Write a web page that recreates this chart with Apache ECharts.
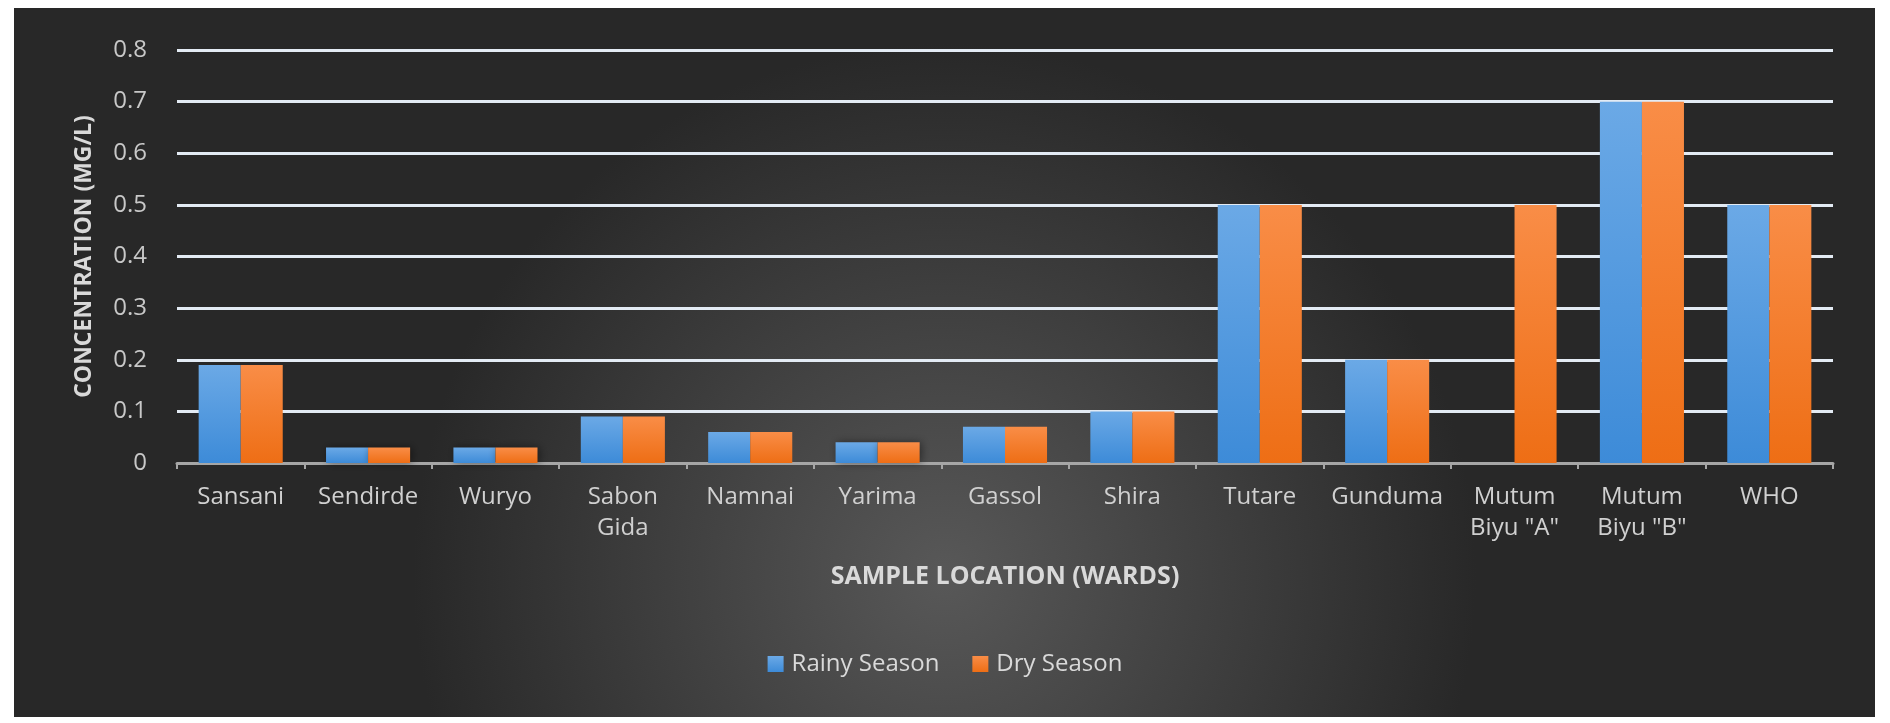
<!DOCTYPE html>
<html>
<head>
<meta charset="utf-8">
<script src="https://cdn.jsdelivr.net/npm/echarts@6/dist/echarts.min.js"></script>
<style>
  html, body { margin: 0; padding: 0; background: #fff; }
  #main { width: 1890px; height: 723px; }
</style>
</head>
<body>
<div id="main"></div>
<script>
var categories = ['Sansani', 'Sendirde', 'Wuryo', 'Sabon\nGida', 'Namnai', 'Yarima', 'Gassol', 'Shira',
    'Tutare', 'Gunduma', 'Mutum\nBiyu "A"', 'Mutum\nBiyu "B"', 'WHO'];
var rainySeason = [0.19, 0.03, 0.03, 0.09, 0.06, 0.04, 0.07, 0.1, 0.5, 0.2, 0, 0.7, 0.5];
var drySeason = [0.19, 0.03, 0.03, 0.09, 0.06, 0.04, 0.07, 0.1, 0.5, 0.2, 0.5, 0.7, 0.5];

var myChart = echarts.init(document.getElementById('main'));

var blue = new echarts.graphic.LinearGradient(0, 0, 0, 1, [
    { offset: 0, color: '#6ba9e6' },
    { offset: 1, color: '#3d8bd8' }
]);
var orange = new echarts.graphic.LinearGradient(0, 0, 0, 1, [
    { offset: 0, color: '#f98d47' },
    { offset: 1, color: '#ee6e15' }
]);
var font = '"Open Sans", sans-serif';

var option = {
    backgroundColor: '#ffffff',
    textStyle: { fontFamily: font },
    graphic: [{
        type: 'rect',
        z: -10,
        shape: { x: 14, y: 8, width: 1861, height: 709 },
        style: {
            fill: new echarts.graphic.RadialGradient(0.5, 0.8, 0.75, [
                { offset: 0, color: '#585858' },
                { offset: 1, color: '#282828' }
            ])
        }
    }],
    grid: { left: 177, right: 57, top: 50, bottom: 260 },
    legend: {
        data: ['Rainy Season', 'Dry Season'],
        bottom: 42,
        left: 'center',
        itemWidth: 16,
        itemHeight: 16,
        itemGap: 33,
        icon: 'rect',
        textStyle: { color: '#d9d9d9', fontSize: 24, fontFamily: font, padding: [0, 0, 0, 3] }
    },
    xAxis: {
        type: 'category',
        data: categories,
        name: 'SAMPLE LOCATION (WARDS)',
        nameLocation: 'middle',
        nameGap: 101,
        nameTextStyle: { color: '#d9d9d9', fontSize: 25, fontWeight: 'bold', fontFamily: font },
        axisLine: { lineStyle: { color: '#a6a6a6', width: 3 } },
        axisTick: { show: true, length: 6, lineStyle: { color: '#a6a6a6', width: 2 } },
        axisLabel: { interval: 0, color: '#d0d0d0', fontSize: 24, lineHeight: 31, margin: 19, fontFamily: font }
    },
    yAxis: {
        type: 'value',
        min: 0,
        max: 0.8,
        interval: 0.1,
        name: 'CONCENTRATION (MG/L)',
        nameLocation: 'middle',
        nameGap: 81,
        nameTextStyle: { color: '#d9d9d9', fontSize: 23, fontWeight: 'bold', fontFamily: font },
        axisLine: { show: false },
        axisTick: { show: false },
        axisLabel: { color: '#c8c8c8', fontSize: 24, margin: 30, fontFamily: font },
        splitLine: { lineStyle: { color: '#e3ebf4', width: 3 } }
    },
    series: [
        {
            name: 'Rainy Season',
            type: 'bar',
            data: rainySeason,
            barGap: '0%',
            barCategoryGap: '34%',
            itemStyle: { color: blue, shadowBlur: 8, shadowColor: 'rgba(0,0,0,0.45)', shadowOffsetX: 2 }
        },
        {
            name: 'Dry Season',
            type: 'bar',
            data: drySeason,
            barGap: '0%',
            barCategoryGap: '34%',
            itemStyle: { color: orange, shadowBlur: 8, shadowColor: 'rgba(0,0,0,0.45)', shadowOffsetX: 2 }
        }
    ]
};
myChart.setOption(option);
</script>
</body>
</html>
